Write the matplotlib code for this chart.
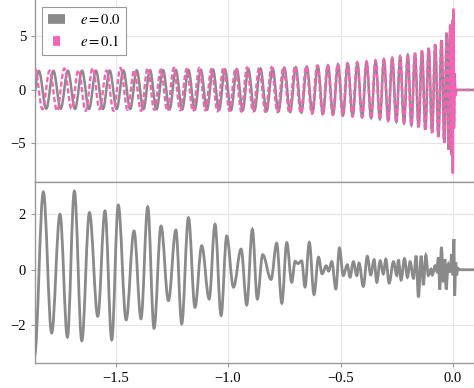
import matplotlib
matplotlib.use("Agg")
import matplotlib.pyplot as plt
from matplotlib.path import Path
from matplotlib.patches import PathPatch
from matplotlib.lines import Line2D

plt.rcParams['font.family'] = 'serif'
plt.rcParams['font.serif'] = ['Liberation Serif', 'DejaVu Serif']
plt.rcParams['mathtext.fontset'] = 'stix'
plt.rcParams['font.size'] = 10.5

# extrema of the e=0.0 waveform (time, strain)
t_circ = [-1.873, -1.841, -1.808, -1.776, -1.744, -1.712, -1.680, -1.649, -1.618, -1.587,
          -1.556, -1.526, -1.495, -1.465, -1.435, -1.406, -1.376, -1.347, -1.318, -1.289,
          -1.260, -1.232, -1.204, -1.176, -1.148, -1.121, -1.094, -1.067, -1.040, -1.014,
          -0.987, -0.961, -0.935, -0.910, -0.883, -0.856, -0.829, -0.802, -0.776, -0.750,
          -0.724, -0.699, -0.674, -0.650, -0.625, -0.601, -0.578, -0.556, -0.533, -0.511,
          -0.489, -0.468, -0.446, -0.425, -0.404, -0.384, -0.364, -0.344, -0.325, -0.307,
          -0.288, -0.270, -0.252, -0.235, -0.218, -0.201, -0.185, -0.169, -0.153, -0.138,
          -0.123, -0.108, -0.093, -0.079, -0.065, -0.051, -0.039, -0.028, -0.020, -0.013,
          -0.006, -0.003, -0.001, 0.001, 0.004, 0.007, 0.010, 0.015, 0.10]
h_circ = [-1.75, 1.78, -1.75, 1.78, -1.76, 1.79, -1.76, 1.80, -1.77, 1.80,
          -1.78, 1.81, -1.78, 1.82, -1.79, 1.83, -1.80, 1.84, -1.81, 1.85,
          -1.82, 1.86, -1.83, 1.87, -1.85, 1.88, -1.86, 1.90, -1.88, 1.92,
          -1.90, 1.94, -1.92, 1.96, -1.95, 1.99, -1.98, 2.03, -2.02, 2.07,
          -2.06, 2.12, -2.11, 2.17, -2.16, 2.23, -2.22, 2.30, -2.29, 2.37,
          -2.36, 2.45, -2.44, 2.53, -2.52, 2.62, -2.62, 2.72, -2.72, 2.83,
          -2.84, 2.95, -2.97, 3.09, -3.11, 3.24, -3.27, 3.42, -3.46, 3.63,
          -3.70, 3.88, -3.97, 4.20, -4.35, 4.65, -4.90, 5.30, -5.50, 6.00,
          -6.00, 6.50, -7.70, 7.50, -3.50, 1.50, -0.50, 0.0, 0.0]

# extrema of the e=0.1 waveform
t_ecc = [-1.890, -1.858, -1.825, -1.793, -1.760, -1.728, -1.696, -1.665, -1.633, -1.602,
         -1.571, -1.540, -1.509, -1.478, -1.447, -1.417, -1.387, -1.357, -1.328, -1.299,
         -1.270, -1.241, -1.213, -1.184, -1.156, -1.128, -1.101, -1.074, -1.047, -1.021,
         -0.994, -0.967, -0.941, -0.916, -0.889, -0.862, -0.834, -0.807, -0.781, -0.754,
         -0.728, -0.703, -0.677, -0.653, -0.628, -0.604, -0.580, -0.558, -0.535, -0.513,
         -0.491, -0.470, -0.448, -0.427, -0.405, -0.385, -0.365, -0.345, -0.326, -0.308,
         -0.289, -0.271, -0.253, -0.236, -0.219, -0.202, -0.186, -0.170, -0.154, -0.139,
         -0.124, -0.109, -0.094, -0.080, -0.066, -0.052, -0.040, -0.029, -0.020, -0.013,
         -0.006, -0.003, -0.001, 0.001, 0.004, 0.007, 0.010, 0.015, 0.10]
h_ecc = [-1.70, 1.95, -1.80, 1.80, -1.95, 2.00, -1.75, 1.85, -1.95, 2.05,
         -1.80, 1.80, -1.95, 2.05, -1.85, 1.85, -1.95, 2.05, -1.85, 1.90,
         -1.95, 2.05, -1.90, 1.95, -1.98, 2.05, -1.90, 1.95, -2.00, 2.08,
         -1.95, 2.00, -2.02, 2.10, -2.00, 2.05, -2.05, 2.12, -2.06, 2.12,
         -2.12, 2.18, -2.15, 2.22, -2.20, 2.28, -2.26, 2.34, -2.33, 2.40,
         -2.39, 2.48, -2.47, 2.56, -2.55, 2.65, -2.65, 2.75, -2.75, 2.86,
         -2.87, 2.98, -3.00, 3.12, -3.14, 3.27, -3.30, 3.45, -3.49, 3.66,
         -3.74, 3.92, -4.02, 4.25, -4.40, 4.70, -4.95, 5.35, -5.60, 6.10,
         -6.10, 6.60, -7.80, 7.65, -3.60, 1.60, -0.50, 0.0, 0.0]

# extrema of the difference between the two waveforms
t_diff = [-1.860, -1.821, -1.784, -1.747, -1.714, -1.683, -1.650, -1.616, -1.579, -1.547,
          -1.517, -1.488, -1.453, -1.418, -1.387, -1.357, -1.329, -1.298, -1.265, -1.232,
          -1.206, -1.176, -1.147, -1.117, -1.084, -1.058, -1.031, -1.006, -0.976, -0.942,
          -0.917, -0.892, -0.870, -0.846, -0.809, -0.784, -0.761, -0.739, -0.717, -0.702,
          -0.689, -0.673, -0.658, -0.639, -0.618, -0.598, -0.582, -0.564, -0.553, -0.539,
          -0.521, -0.505, -0.488, -0.470, -0.458, -0.443, -0.428, -0.418, -0.399, -0.381,
          -0.366, -0.351, -0.339, -0.324, -0.310, -0.299, -0.284, -0.265, -0.250, -0.243,
          -0.231, -0.216, -0.203, -0.191, -0.176, -0.164, -0.154, -0.142, -0.132, -0.121,
          -0.110, -0.098, -0.092, -0.080, -0.073, -0.065, -0.059, -0.052, -0.043, -0.036,
          -0.031, -0.021, -0.013, -0.006, 0.000, 0.004, 0.007, 0.012, 0.016, 0.021,
          0.030, 0.10]
h_diff = [-3.07, 2.79, -2.27, 1.99, -2.42, 2.82, -2.55, 2.05, -1.67, 2.11,
          -2.52, 2.32, -1.80, 1.39, -1.76, 2.26, -2.10, 1.57, -1.11, 1.42,
          -1.94, 1.87, -1.35, 0.86, -1.05, 1.63, -1.64, 1.21, -0.63, 0.74,
          -1.26, 1.45, -1.05, 0.54, -0.35, 0.95, -1.20, 0.97, -0.45, 0.30,
          0.22, 0.32, -0.62, 0.98, -0.89, 0.45, -0.15, 0.14, -0.05, 0.29,
          -0.69, 0.78, -0.21, 0.18, -0.27, 0.29, -0.21, 0.24, -0.60, 0.48,
          -0.19, 0.36, -0.45, 0.32, -0.15, 0.38, -0.48, 0.29, -0.21, 0.36,
          -0.37, 0.40, -0.27, 0.29, -0.31, 0.50, -0.99, 0.50, -0.55, 0.52,
          -0.21, 0.02, -0.19, 0.14, -0.05, 0.44, -0.71, 0.82, -0.45, 0.38,
          -0.71, 0.20, -0.10, 0.56, -0.20, 1.10, -0.93, 0.26, -0.20, 0.05,
          0.0, 0.0]

labels = ['$e = 0.0$', '$e = 0.1$']
gray = '#8a8a8a'
pink = '#f564b4'


def draw_wave(ax, t, h, **kw):
    # smooth curve through the extrema, flat tangent at each one
    verts = [(t[0], h[0])]
    codes = [Path.MOVETO]
    for i in range(len(t) - 1):
        dt = t[i + 1] - t[i]
        verts += [(t[i] + 0.364 * dt, h[i]), (t[i + 1] - 0.364 * dt, h[i + 1]),
                  (t[i + 1], h[i + 1])]
        codes += [Path.CURVE4] * 3
    ax.add_patch(PathPatch(Path(verts, codes), fill=False, **kw))


fig = plt.figure(figsize=(4.74, 3.88), dpi=100)
ax1 = fig.add_axes([35 / 474, 1 - 182 / 388, 1 - 35 / 474, 182 / 388])
ax2 = fig.add_axes([35 / 474, 1 - 363 / 388, 1 - 35 / 474, 181 / 388])

draw_wave(ax1, t_circ, h_circ, edgecolor=gray, lw=1.8, zorder=3)
draw_wave(ax1, t_ecc, h_ecc, edgecolor=pink, lw=1.7, linestyle=(0, (2.2, 1.1)), zorder=4)
draw_wave(ax2, t_diff, h_diff, edgecolor=gray, lw=2.0, zorder=3)

for ax in (ax1, ax2):
    ax.set_xlim(-1.858, 0.093)
    ax.set_xticks([-1.5, -1.0, -0.5, 0.0])
    ax.grid(True, color='#e6e6e6', lw=0.8)
    ax.set_axisbelow(True)
    for s in ('top', 'right'):
        ax.spines[s].set_visible(False)
    for s in ('left', 'bottom'):
        ax.spines[s].set_color('#999999')
        ax.spines[s].set_linewidth(1.0)
    ax.tick_params(colors='#999999', labelcolor='black', length=3, width=0.8)

# separator between the two panels
ax2.spines['top'].set_visible(True)
ax2.spines['top'].set_color('#999999')
ax2.spines['top'].set_linewidth(1.0)

ax1.set_ylim(-8.6, 8.4)
ax1.set_yticks([-5, 0, 5])
ax1.tick_params(axis='x', labelbottom=False, length=0)
ax2.set_ylim(-3.35, 3.15)
ax2.set_yticks([-2, 0, 2])

handles = [Line2D([], [], color=gray, lw=7, solid_capstyle='butt'),
           Line2D([], [], color=pink, lw=7, linestyle=(1.23, (0.72, 1.03)),
                  dash_capstyle='butt')]
leg = ax1.legend(handles, labels, loc='upper left', bbox_to_anchor=(0.016, 0.962),
                 borderaxespad=0, fancybox=False, framealpha=1, edgecolor='#999999',
                 handlelength=1.2, labelspacing=0.5, handletextpad=1.0,
                 borderpad=0.4, fontsize=10.5)
leg.get_frame().set_linewidth(0.8)

fig.savefig('out.png', dpi=100)
